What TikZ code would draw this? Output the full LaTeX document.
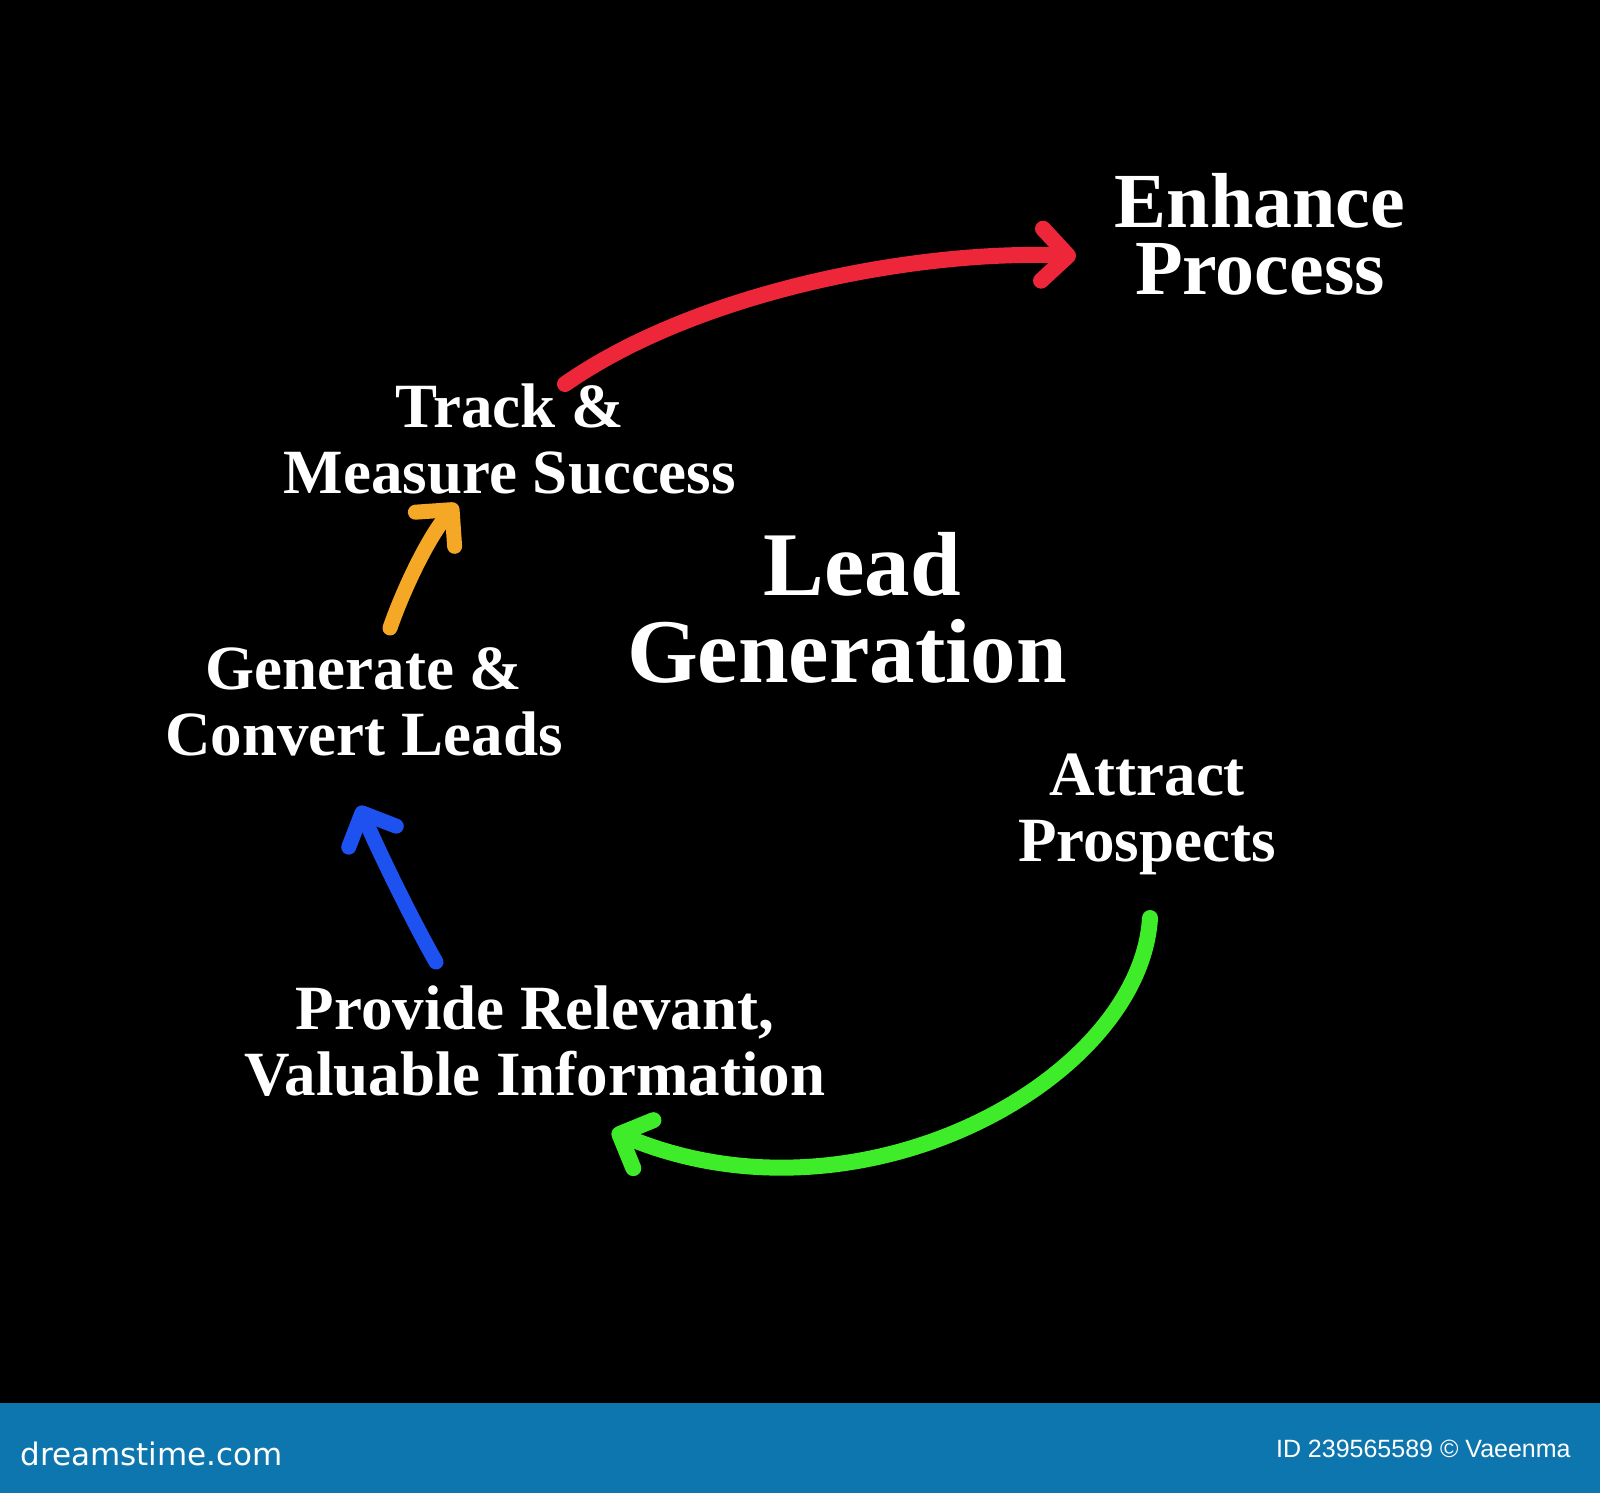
\documentclass[tikz,border=0pt]{standalone}
\usepackage{fontspec}
\setmainfont{Liberation Serif}
\newfontfamily\barfont{DejaVu Sans}
\newfontfamily\idfont{Liberation Sans}
\usetikzlibrary{arrows.meta}
\definecolor{arrred}{RGB}{238,38,58}
\definecolor{arrorange}{RGB}{245,168,38}
\definecolor{arrblue}{RGB}{30,82,240}
\definecolor{arrgreen}{RGB}{62,236,42}
\definecolor{barblue}{RGB}{14,118,174}
\begin{document}
\begin{tikzpicture}[x=0.5pt,y=-0.5pt,
  lbl/.style={text=white, align=center, inner sep=0pt,
    font=\bfseries\fontsize{31.5pt}{33pt}\selectfont},
  bigtitle/.style={text=white, align=center, inner sep=0pt,
    font=\bfseries\fontsize{45.5pt}{43.5pt}\selectfont},
  toplbl/.style={text=white, align=center, inner sep=0pt,
    font=\bfseries\fontsize{39pt}{33.5pt}\selectfont},
  arr/.style={line width=8pt, line cap=round,
    -{Straight Barb[length=13pt,width=26pt,round]}},
  thinarr/.style={arr, line width=7.5pt}]
\fill[black] (0,0) rectangle (1600,1493);
\useasboundingbox (0,0) rectangle (1600,1493);
\fill[barblue] (0,1403) rectangle (1600,1493);

% labels
\node[toplbl] (enhance) at (1260,234) {Enhance\\Process};
\node[lbl] (track) at (510,439) {Track \&\\Measure Success};
\node[bigtitle] (lead) at (847,608) {\hspace*{15pt}Lead\\Generation};
\node[lbl] (generate) at (364,702) {Generate \&\\Convert Leads};
\node[lbl] (attract) at (1147,814) {Attract\\Prospects};
\node[lbl] (provide) at (535,1041) {Provide Relevant,\\Valuable Information};

% arrow end points
\coordinate (rs) at (565,384);
\coordinate (re) at (1076,256);
\coordinate (os) at (390,628);
\coordinate (oe) at (457,504);
\coordinate (bs) at (436,962);
\coordinate (be) at (359,806);
\coordinate (gs) at (1150,918);
\coordinate (ge) at (612,1131);

\draw[arr, arrred] (rs) .. controls (700,290) and (920,250) .. (re);
\draw[thinarr, arrorange] (os) .. controls (405,585) and (430,535) .. (oe);
\draw[thinarr, arrblue] (bs) .. controls (415,925) and (385,865) .. (be);
\draw[arr, arrgreen] (gs) .. controls (1140,1080) and (860,1235) .. (ge);

% bottom bar texts
\node[text=white, anchor=base west, inner sep=0pt,
  font=\barfont\fontsize{15.5pt}{18pt}\selectfont] (brand) at (20,1465) {dreamstime.com};
\node[text=white, anchor=base east, inner sep=0pt,
  font=\idfont\fontsize{12.5pt}{15pt}\selectfont] (imgid) at (1571,1457) {ID 239565589 © Vaeenma};
\end{tikzpicture}
\end{document}
